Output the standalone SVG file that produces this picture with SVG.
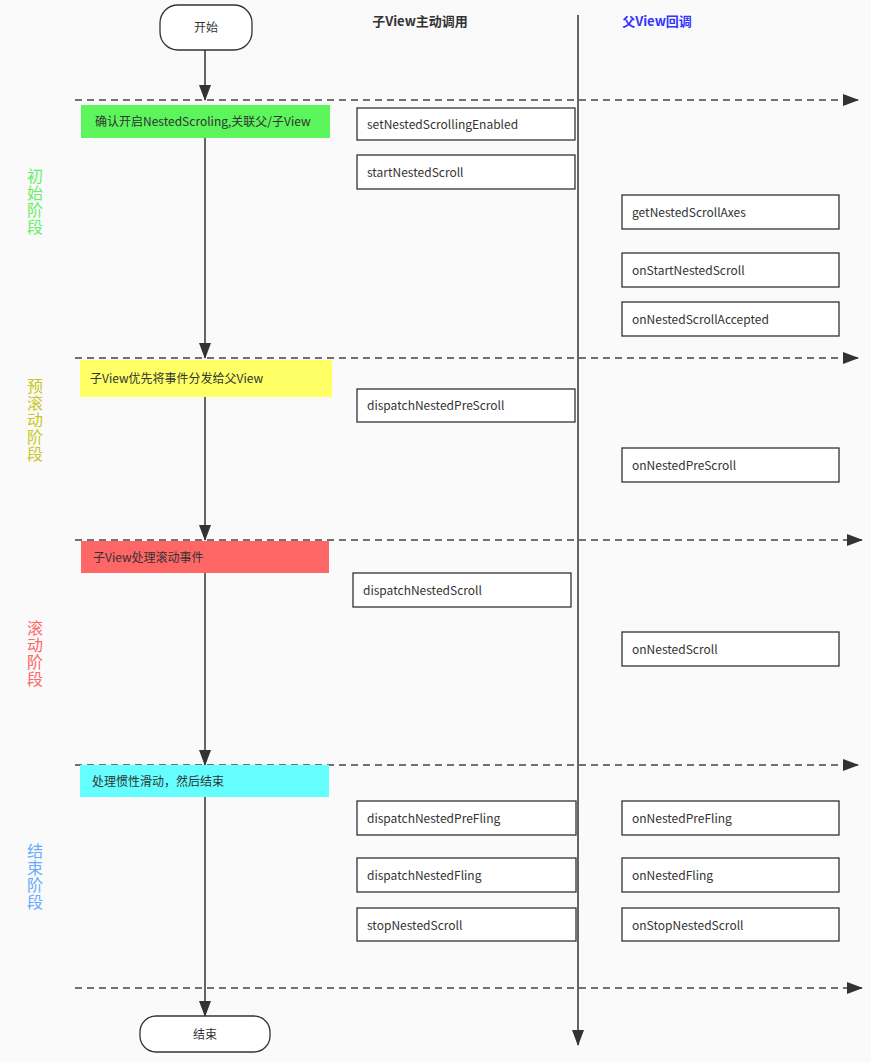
<svg xmlns="http://www.w3.org/2000/svg" width="871" height="1062" viewBox="0 0 871 1062">
<style>
text{font-family:"Noto Sans CJK SC","Liberation Sans",sans-serif;font-size:12px;fill:#333}
.b{fill:#fff;stroke:#333;stroke-width:1.3}
.d{stroke:#444;stroke-width:1.5;stroke-dasharray:7 5;fill:none}
.l{stroke:#333;stroke-width:1.5;fill:none}
.ph{font-size:16px;writing-mode:vertical-rl;letter-spacing:1px}
</style>
<defs><marker id="a" markerWidth="10" markerHeight="10" refX="9" refY="5" orient="auto" markerUnits="userSpaceOnUse"><path d="M0,0 L10,5 L0,10 Z" fill="#333"/></marker>
<marker id="a2" markerWidth="16" markerHeight="12" refX="15" refY="6" orient="auto" markerUnits="userSpaceOnUse"><path d="M0,0 L16,6 L0,12 Z" fill="#333"/></marker></defs>
<rect width="871" height="1062" fill="#fafafa"/>
<g id="connectors">
<path class="d" d="M75,100H858" marker-end="url(#a2)"/>
<path class="d" d="M75,358H858" marker-end="url(#a2)"/>
<path class="d" d="M75,540H862" marker-end="url(#a2)"/>
<path class="d" d="M75,765H858" marker-end="url(#a2)"/>
<path class="d" d="M75,988H862" marker-end="url(#a2)"/>
<path class="l" d="M578,15V1045" marker-end="url(#a2)"/>
<path class="l" d="M205,50V100" marker-end="url(#a2)"/>
<path class="l" d="M205,138V358" marker-end="url(#a2)"/>
<path class="l" d="M205,397V540" marker-end="url(#a2)"/>
<path class="l" d="M205,573V765" marker-end="url(#a2)"/>
<path class="l" d="M205,797V1016" marker-end="url(#a2)"/>
</g>
<text x="420" y="26" text-anchor="middle" style="font-weight:bold;font-size:13px">子View主动调用</text>
<text x="657" y="26" text-anchor="middle" style="font-weight:bold;font-size:13px;fill:#3333ff">父View回调</text>
<text class="ph" x="35" y="168" style="fill:#66ee66">初始阶段</text>
<text class="ph" x="35" y="378" style="fill:#c8c820">预滚动阶段</text>
<text class="ph" x="35" y="620" style="fill:#ff6666">滚动阶段</text>
<text class="ph" x="35" y="843" style="fill:#66aaff">结束阶段</text>
<g id="start"><rect class="b" x="160" y="5" width="92" height="45" rx="18"/><text x="206" y="32" text-anchor="middle">开始</text></g>
<g id="end"><rect class="b" x="140" y="1016" width="130" height="36" rx="16"/><text x="205" y="1039" text-anchor="middle">结束</text></g>
<g id="s1"><rect x="81" y="105" width="249" height="33" fill="#5cf55c"/><text x="95" y="126">确认开启NestedScroling,关联父/子View</text></g>
<g id="s2"><rect x="80" y="360" width="252" height="37" fill="#ffff66"/><text x="90" y="383">子View优先将事件分发给父View</text></g>
<g id="s3"><rect x="81" y="541" width="248" height="32" fill="#ff6666"/><text x="93" y="562">子View处理滚动事件</text></g>
<g id="s4"><rect x="80" y="765" width="249" height="32" fill="#66ffff"/><text x="92" y="786">处理惯性滑动，然后结束</text></g>
<g id="c1"><rect class="b" x="357" y="108" width="218" height="32"/><text x="367" y="129">setNestedScrollingEnabled</text></g>
<g id="c2"><rect class="b" x="357" y="155" width="218" height="34"/><text x="367" y="177">startNestedScroll</text></g>
<g id="c3"><rect class="b" x="357" y="389" width="218" height="33"/><text x="367" y="410">dispatchNestedPreScroll</text></g>
<g id="c4"><rect class="b" x="353" y="573" width="218" height="34"/><text x="363" y="595">dispatchNestedScroll</text></g>
<g id="c5"><rect class="b" x="357" y="801" width="219" height="34"/><text x="367" y="823">dispatchNestedPreFling</text></g>
<g id="c6"><rect class="b" x="357" y="858" width="219" height="34"/><text x="367" y="880">dispatchNestedFling</text></g>
<g id="c7"><rect class="b" x="357" y="908" width="219" height="33"/><text x="367" y="930">stopNestedScroll</text></g>
<g id="p1"><rect class="b" x="622" y="195" width="217" height="34"/><text x="632" y="217">getNestedScrollAxes</text></g>
<g id="p2"><rect class="b" x="622" y="253" width="217" height="34"/><text x="632" y="275">onStartNestedScroll</text></g>
<g id="p3"><rect class="b" x="622" y="302" width="217" height="34"/><text x="632" y="324">onNestedScrollAccepted</text></g>
<g id="p4"><rect class="b" x="622" y="448" width="217" height="34"/><text x="632" y="470">onNestedPreScroll</text></g>
<g id="p5"><rect class="b" x="622" y="632" width="217" height="34"/><text x="632" y="654">onNestedScroll</text></g>
<g id="p6"><rect class="b" x="622" y="801" width="217" height="34"/><text x="632" y="823">onNestedPreFling</text></g>
<g id="p7"><rect class="b" x="622" y="858" width="217" height="34"/><text x="632" y="880">onNestedFling</text></g>
<g id="p8"><rect class="b" x="622" y="908" width="217" height="33"/><text x="632" y="930">onStopNestedScroll</text></g>
</svg>
